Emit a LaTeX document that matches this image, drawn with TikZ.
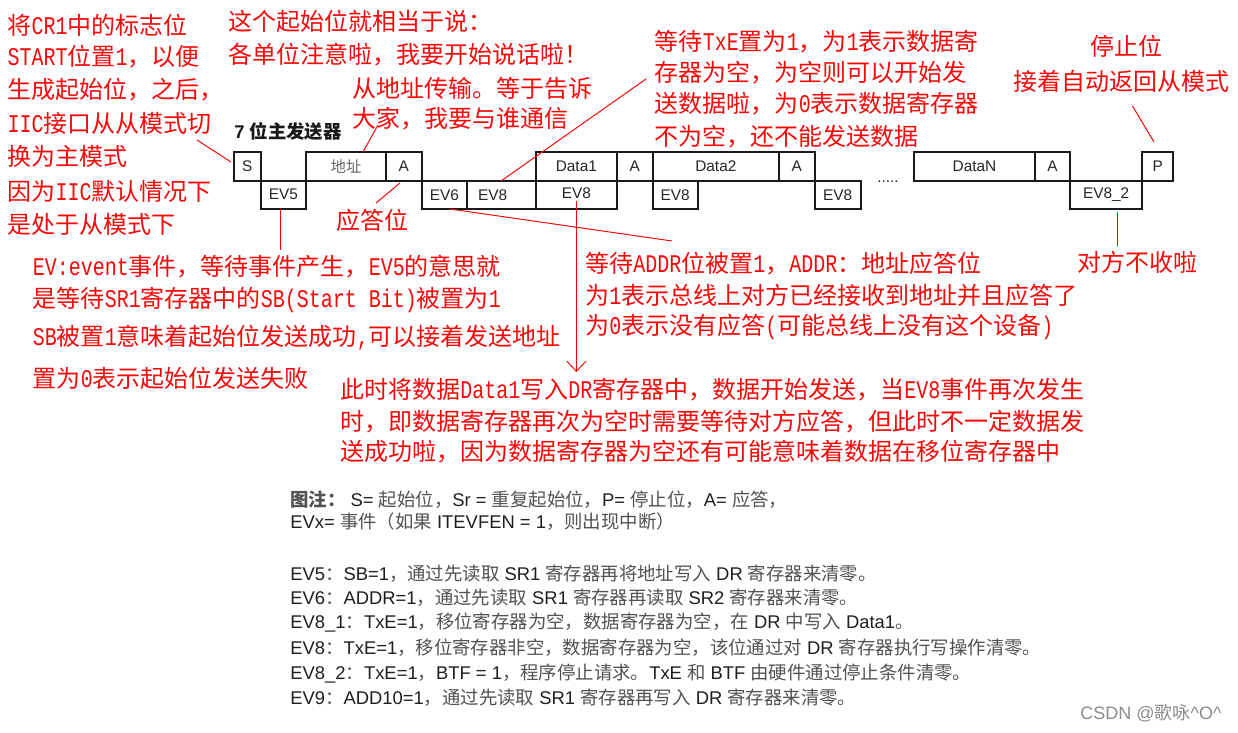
\documentclass[tikz,border=0pt]{standalone}
\usepackage{fontspec}
\setmainfont{Liberation Sans}
\newfontfamily\cjkf{Noto Sans CJK SC}
\newfontfamily\monof{Liberation Mono}[Scale=1.06, FakeStretch=0.786]
\usetikzlibrary{arrows.meta,fit}

% automatic switch between CJK and Latin fonts
\XeTeXinterchartokenstate=1
\newXeTeXintercharclass\CJKcls
\newcount\cjkc
\cjkc="2E80
\loop\XeTeXcharclass\cjkc=\CJKcls \advance\cjkc by 1 \ifnum\cjkc<"A000 \repeat
\cjkc="FF00
\loop\XeTeXcharclass\cjkc=\CJKcls \advance\cjkc by 1 \ifnum\cjkc<"FFF0 \repeat
\def\curcjk{\cjkf}\def\curlatin{\rmfamily}
\XeTeXinterchartoks 0 \CJKcls={\curcjk}
\XeTeXinterchartoks 4095 \CJKcls={\curcjk}
\XeTeXinterchartoks \CJKcls 0={\curlatin}
\XeTeXinterchartoks \CJKcls 4095={\curlatin}

\newcommand\redfont{\def\curcjk{\cjkf}\def\curlatin{\monof}\fontsize{12pt}{14pt}\monof}
\newcommand\lgfont{\def\curcjk{\cjkf\color{black!68}\relax}\def\curlatin{\rmfamily\color{black!88}\relax}\fontsize{9.2pt}{11pt}\rmfamily}
\newcommand\bxfont{\def\curcjk{\cjkf}\def\curlatin{\rmfamily}\fontsize{7.7pt}{9pt}\rmfamily}
\newcommand\ttlfont{\def\curcjk{\cjkf}\def\curlatin{\rmfamily}\fontsize{9.2pt}{11pt}\rmfamily\bfseries}
\newcommand\wmfont{\def\curcjk{\cjkf}\def\curlatin{\rmfamily}\fontsize{9pt}{11pt}\rmfamily}

\definecolor{annred}{RGB}{245,10,10}
\definecolor{boxline}{RGB}{26,26,26}

\tikzset{
  rt/.style={anchor=west, inner sep=0pt, text=annred, font=\redfont, text height=10.5pt, text depth=1.5pt},
  lg/.style={anchor=west, inner sep=0pt, text=black!88, font=\lgfont, text height=7.8pt, text depth=1pt},
  bx/.style={draw=boxline, line width=1pt, inner sep=0pt},
  bxl/.style={font=\bxfont, text=black!85, inner sep=0pt},
  rl/.style={draw=annred, line width=0.5pt},
}

\begin{document}
\begin{tikzpicture}[x=0.5pt,y=-0.5pt]
\fill[white] (0,0) rectangle (1238,733);
\useasboundingbox (0,0) rectangle (1238,733);

% title
\node[anchor=west, inner sep=0pt, font=\ttlfont, text=black!90] (title) at (234,131) {7 位主发送器};

% frame boxes
\node[bx, fit={(234,152.3) (260.7,180.7)}, label={[bxl]center:S}] (bS) {};
\node[bx, fit={(260.7,180.7) (306,208.7)}, label={[bxl]center:EV5}] (bEVf) {};
\node[bx, fit={(306,152.3) (386,180.7)}, label={[bxl, text=black!60]center:地址}] (bAddr) {};
\node[bx, fit={(386,152.3) (421.7,180.7)}, label={[bxl]center:A}] (bAa) {};
\node[bx, fit={(421.7,180.7) (467.3,208.7)}, label={[bxl]center:EV6}] (bEVs) {};
\node[bx, fit={(467.3,180.7) (536,208.7)}, label={[bxl, xshift=-4.5pt]center:EV8}] (bEVa) {};
\node[bx, fit={(536,152.3) (616.7,180.7)}, label={[bxl]center:Data1}] (bDa) {};
\node[bx, fit={(536,180.7) (616.7,208.7)}, label={[bxl, yshift=1pt]center:EV8}] (bEVb) {};
\node[bx, fit={(616.7,152.3) (652.7,180.7)}, label={[bxl]center:A}] (bAb) {};
\node[bx, fit={(652.7,152.3) (779,180.7)}, label={[bxl]center:Data2}] (bDb) {};
\node[bx, fit={(652.7,180.7) (697.7,208.7)}, label={[bxl]center:EV8}] (bEVc) {};
\node[bx, fit={(779,152.3) (814.7,180.7)}, label={[bxl]center:A}] (bAc) {};
\node[bx, fit={(814.7,180.7) (860.7,208.7)}, label={[bxl]center:EV8}] (bEVd) {};
\node[bxl] (dots) at (888,182) {.....};
\node[bx, fit={(914,152.3) (1035,180.7)}, label={[bxl]center:DataN}] (bDn) {};
\node[bx, fit={(1035,152.3) (1070,180.7)}, label={[bxl]center:A}] (bAd) {};
\node[bx, fit={(1070,180.7) (1142.3,208.7)}, label={[bxl]center:EV8\_2}] (bEVe) {};
\node[bx, fit={(1142.3,152.3) (1173.3,180.7)}, label={[bxl]center:P}] (bP) {};

% red annotations
\node[rt] (a1) at (7.3,25.5) {将CR1中的标志位};
\node[rt] (a2) at (7.3,57) {START位置1，以便};
\node[rt] (a3) at (7.3,90) {生成起始位，之后，};
\node[rt] (a4) at (7.3,123.5) {IIC接口从从模式切};
\node[rt] (a5) at (7.3,157) {换为主模式};
\node[rt] (a6) at (7.3,191.5) {因为IIC默认情况下};
\node[rt] (a7) at (7.3,224.5) {是处于从模式下};

\node[rt] (b1) at (228,21.7) {这个起始位就相当于说：};
\node[rt] (b2) at (228,55) {各单位注意啦，我要开始说话啦！};
\node[rt] (c1) at (352,88.3) {从地址传输。等于告诉};
\node[rt] (c2) at (352,118.3) {大家，我要与谁通信};
\node[rt] (d1) at (336,220) {应答位};

\node[rt] (e1) at (32.5,266.7) {EV:event事件，等待事件产生，EV5的意思就};
\node[rt] (e2) at (32.5,298.3) {是等待SR1寄存器中的SB(Start Bit)被置为1};
\node[rt] (e3) at (32.5,336.7) {SB被置1意味着起始位发送成功,可以接着发送地址};
\node[rt] (e4) at (32.5,378.3) {置为0表示起始位发送失败};

\node[rt] (f1) at (654.5,41.7) {等待TxE置为1，为1表示数据寄};
\node[rt] (f2) at (654.5,72.7) {存器为空，为空则可以开始发};
\node[rt] (f3) at (654.5,103.3) {送数据啦，为0表示数据寄存器};
\node[rt] (f4) at (654.5,136.7) {不为空，还不能发送数据};

\node[rt] (g1) at (1090,46.7) {停止位};
\node[rt] (g2) at (1013,81.7) {接着自动返回从模式};

\node[rt] (h1) at (585,263.3) {等待ADDR位被置1，ADDR：地址应答位};
\node[rt] (h2) at (585,295) {为1表示总线上对方已经接收到地址并且应答了};
\node[rt] (h3) at (585,325) {为0表示没有应答(可能总线上没有这个设备)};

\node[rt] (i1) at (1077,262) {对方不收啦};

\node[rt] (j1) at (340,389.3) {此时将数据Data1写入DR寄存器中，数据开始发送，当EV8事件再次发生};
\node[rt] (j2) at (340,421.7) {时，即数据寄存器再次为空时需要等待对方应答，但此时不一定数据发};
\node[rt] (j3) at (340,451.7) {送成功啦，因为数据寄存器为空还有可能意味着数据在移位寄存器中};

% connectors
\coordinate (pSa) at (197,140);   \coordinate (pSb) at (231,162);
\coordinate (pAda) at (378,125);  \coordinate (pAdb) at (363,152);
\coordinate (pAka) at (400,183);  \coordinate (pAkb) at (376,203);
\coordinate (pEa) at (280,209);   \coordinate (pEb) at (280,250);
\coordinate (pXa) at (450,209);   \coordinate (pXb) at (672,241);
\coordinate (pTa) at (501,181);   \coordinate (pTb) at (646,79);
\coordinate (pRa) at (576.4,201.5); \coordinate (pRb) at (576.4,372);
\coordinate (pPa) at (1132.5,106); \coordinate (pPb) at (1154,142);
\coordinate (pNa) at (1117.5,212); \coordinate (pNb) at (1117.5,246);
\draw[rl] (pSa) -- (pSb);
\draw[rl] (pAda) -- (pAdb);
\draw[rl] (pAka) -- (pAkb);
\draw[rl] (pEa) -- (pEb);
\draw[rl] (pXa) -- (pXb);
\draw[rl] (pTa) -- (pTb);
\draw[rl, -{Straight Barb[length=5pt,width=9.5pt]}] (pRa) -- (pRb);
\draw[rl] (pPa) -- (pPb);
\draw[rl] (pNa) -- (pNb);

% legend
\node[lg] (k1) at (290,500) {{\bfseries 图注：} S= 起始位，Sr = 重复起始位，P= 停止位，A= 应答，};
\node[lg] (k2) at (290,522) {EVx= 事件（如果 ITEVFEN = 1，则出现中断）};
\node[lg] (k3) at (290,574) {EV5：SB=1，通过先读取 SR1 寄存器再将地址写入 DR 寄存器来清零。};
\node[lg] (k4) at (290,597.5) {EV6：ADDR=1，通过先读取 SR1 寄存器再读取 SR2 寄存器来清零。};
\node[lg] (k5) at (290,622) {EV8\_1：TxE=1，移位寄存器为空，数据寄存器为空，在 DR 中写入 Data1。};
\node[lg] (k6) at (290,647.5) {EV8：TxE=1，移位寄存器非空，数据寄存器为空，该位通过对 DR 寄存器执行写操作清零。};
\node[lg] (k7) at (290,673) {EV8\_2：TxE=1，BTF = 1，程序停止请求。TxE 和 BTF 由硬件通过停止条件清零。};
\node[lg] (k8) at (290,697.5) {EV9：ADD10=1，通过先读取 SR1 寄存器再写入 DR 寄存器来清零。};

% watermark
\node[anchor=west, inner sep=0pt, font=\wmfont, text=black!45] (wm) at (1080,713) {CSDN @歌咏\textasciicircum O\textasciicircum};
\end{tikzpicture}
\end{document}
